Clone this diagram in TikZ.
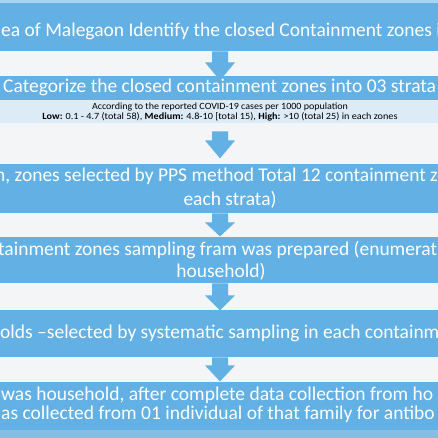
\documentclass[tikz,border=0pt]{standalone}
\usepackage{fontspec}
\usepackage{graphicx}
\setmainfont{Carlito}
\usetikzlibrary{calc}
\definecolor{boxblue}{HTML}{62B0E4}
\definecolor{bggray}{HTML}{F3F5F7}
\definecolor{lightarea}{HTML}{DDEBF6}
\definecolor{topstrip}{HTML}{A8D2F0}
\definecolor{botstrip}{HTML}{86BDE3}
\tikzset{
  box/.style={fill=boxblue, draw=none, minimum width=470pt, inner sep=0pt, anchor=north},
  maintext/.style={text=white, inner sep=0pt, font=\fontsize{19.5}{22}\selectfont},
  smalltext/.style={text=black, inner sep=0pt, font=\fontsize{9.5}{10}\selectfont},
}
\newcommand\blockarr[4]{% start coord, shaft length, head length, name
  \fill[boxblue] let \p1=(#1) in
    (\x1-8pt,\y1) -- (\x1-8pt,\y1-#2pt) -- (\x1-15pt,\y1-#2pt) -- (\x1,\y1-#2pt-#3pt) coordinate (#4)
    -- (\x1+15pt,\y1-#2pt) -- (\x1+8pt,\y1-#2pt) -- (\x1+8pt,\y1) -- cycle;
}
\begin{document}
\begin{tikzpicture}[x=1pt,y=-1pt]
\useasboundingbox (0,0) rectangle (438,438);
\clip (0,0) rectangle (438,438);
\fill[bggray] (0,0) rectangle (438,438);
\fill[topstrip] (0,0) rectangle (438,3);
\fill[botstrip] (0,430) rectangle (438,438);
% boxes
\node[box, minimum height=48pt] (b1) at (220,3) {};
\node[box, minimum height=24pt] (b2) at (220,76) {};
\node[box, fill=lightarea, minimum height=23pt] (b2n) at (220,100) {};
\node[box, minimum height=49pt] (b3) at (220,164) {};
\node[box, minimum height=46pt] (b4) at (220,237) {};
\node[box, minimum height=47pt] (b5) at (220,310) {};
\node[box, minimum height=48pt] (b6) at (220,382) {};
% arrows
\coordinate (a2s) at ($(b2n.south)+(0,8)$);
\blockarr{b1.south}{11}{18}{t1}
\blockarr{a2s}{9}{18}{t2}
\blockarr{b3.south}{9}{14}{t3}
\blockarr{b4.south}{12}{15}{t4}
\blockarr{b5.south}{8}{16}{t5}
% texts
\node[maintext, anchor=base west] (l1) at (1,37) {ea of Malegaon Identify the closed Containment zones i};
\node[maintext, anchor=base west] (l2) at (3,93) {Categorize the closed containment zones into 03 strata};
\node[smalltext, anchor=base] (s1) at (220,110) {\resizebox{256pt}{\height}{According to the reported COVID-19 cases per 1000 population}};
\node[smalltext, anchor=base] (s2) at (220,119.5) {\resizebox{355pt}{\height}{\textbf{Low:} 0.1 - 4.7 (total 58), \textbf{Medium:} 4.8-10 [total 15), \textbf{High:} >10 (total 25) in each zones}};
\node[maintext, anchor=base west] (l3) at (-5,182) {n, zones selected by PPS method Total 12 containment z};
\node[maintext, anchor=base] (l3b) at (230,205) {each strata)};
\node[maintext, anchor=base west] (l4) at (-2,255) {tainment zones sampling fram was prepared (enumerat};
\node[maintext, anchor=base] (l4b) at (221,277) {household)};
\node[maintext, anchor=base west] (l5) at (0,338) {olds –selected by systematic sampling in each containm};
\node[maintext, anchor=base west] (l6) at (1,400) {was household, after complete data collection from ho};
\node[maintext, anchor=base west] (l6b) at (1,419) {as collected from 01 individual of that family for antibo};
\end{tikzpicture}
\end{document}
